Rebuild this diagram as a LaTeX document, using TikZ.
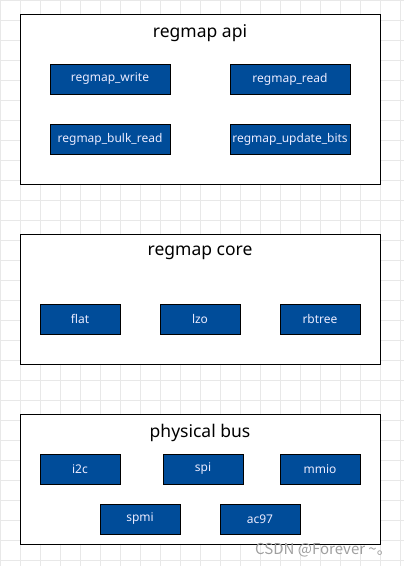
\documentclass[tikz,border=0pt]{standalone}
\usepackage{fontspec}
\setmainfont{Noto Sans}
\newfontfamily\cjk{Noto Sans CJK SC}
\definecolor{regblue}{RGB}{0,76,153}
\tikzset{
  layer/.style={draw=black,fill=white,line width=1pt},
  item/.style={draw=black,fill=regblue,text=white!92!blue,line width=0.9pt,
    minimum height=30pt,inner sep=0pt,font=\fontsize{12}{14}\selectfont},
  title/.style={font=\fontsize{17.5}{20}\selectfont,text=black}
}
\begin{document}
\begin{tikzpicture}[x=1pt,y=-1pt]
\useasboundingbox (0,0) rectangle (404,566);

% grid
\draw[gray!18,line width=0.5pt] (0,0) grid[step=20pt] (404,566);

\begin{scope}
\draw[layer] (20,14) rectangle (380,184);
\node[title] (api) at (200,33) {regmap api};
\node[item,minimum width=120pt] (wr) at (110,79) {regmap\_write};
\node[item,minimum width=120pt] (rd) at (290,79) {regmap\_read};
\node[item,minimum width=120pt] (bulk) at (110,139) {regmap\_bulk\_read};
\node[item,minimum width=120pt] (upd) at (290,139) {regmap\_update\_bits};
\end{scope}

\begin{scope}[yshift=-220pt]
\draw[layer] (20,14) rectangle (380,144);
\node[title] (core) at (200,33) {regmap core};
\node[item,minimum width=80pt] (flat) at (80,99) {flat};
\node[item,minimum width=80pt] (lzo) at (200,99) {lzo};
\node[item,minimum width=80pt] (rbt) at (320,99) {rbtree};
\end{scope}

\begin{scope}[yshift=-400pt]
\draw[layer] (20,14) rectangle (380,144);
\node[title] (bus) at (200,33) {physical bus};
\node[item,minimum width=80pt] (i2c) at (80,69) {i2c};
\node[item,minimum width=80pt] (spi) at (203,69) {spi};
\node[item,minimum width=80pt] (mmio) at (320,69) {mmio};
\node[item,minimum width=80pt] (spmi) at (140,119) {spmi};
\node[item,minimum width=80pt] (ac97) at (260,119) {ac97};
\end{scope}

\node[anchor=east,text=gray!75,font=\cjk\fontsize{15}{17}\selectfont,inner sep=0pt] (csdn) at (392,550) {CSDN @Forever \textasciitilde。};
\end{tikzpicture}
\end{document}
